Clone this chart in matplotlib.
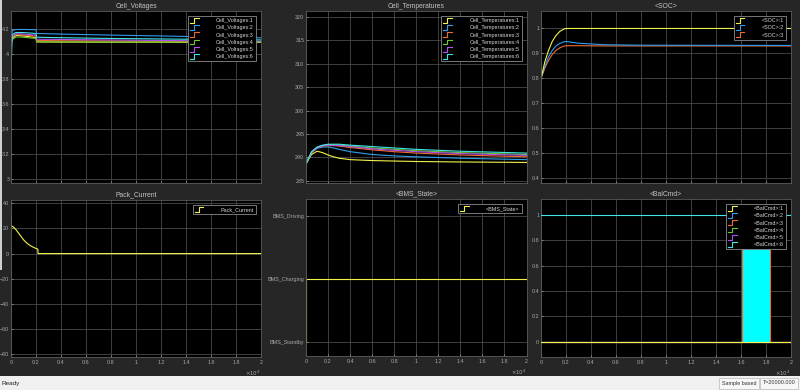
import matplotlib
matplotlib.use('Agg')
import matplotlib.pyplot as plt
from matplotlib.lines import Line2D
from matplotlib.legend_handler import HandlerBase
from matplotlib.patches import Rectangle

plt.rcParams['font.family'] = ['Liberation Sans', 'DejaVu Sans']

# ---------------- data ----------------
xticks = [0, 2000, 4000, 6000, 8000, 10000, 12000, 14000, 16000, 18000, 20000]
xtick_labels = ['0', '0.2', '0.4', '0.6', '0.8', '1', '1.2', '1.4', '1.6', '1.8', '2']

# Cell voltages
v_t = [0, 100, 400, 800, 1200, 1600, 2000, 2050, 4000, 8000, 12000, 16000, 20000]
v_1 = [4.08, 4.13, 4.152, 4.150, 4.145, 4.140, 4.136, 4.100, 4.099, 4.098, 4.098, 4.097, 4.097]
v_2 = [4.10, 4.19, 4.200, 4.200, 4.200, 4.199, 4.198, 4.168, 4.163, 4.155, 4.148, 4.140, 4.133]
v_3 = [4.09, 4.14, 4.158, 4.157, 4.154, 4.150, 4.147, 4.112, 4.110, 4.108, 4.106, 4.104, 4.102]
v_4 = [4.08, 4.12, 4.140, 4.139, 4.136, 4.132, 4.128, 4.102, 4.101, 4.100, 4.100, 4.099, 4.099]
v_5 = [4.09, 4.15, 4.166, 4.165, 4.162, 4.158, 4.155, 4.122, 4.120, 4.116, 4.112, 4.108, 4.104]
v_6 = [3.86, 4.16, 4.176, 4.176, 4.174, 4.171, 4.168, 4.138, 4.134, 4.128, 4.124, 4.120, 4.116]

# Cell temperatures
T_t = [0, 500, 1000, 1500, 2000, 2500, 3000, 4000, 6000, 8000, 10000, 14000, 20000]
T_1 = [288.6, 290.6, 291.3, 291.0, 290.5, 290.1, 289.8, 289.5, 289.3, 289.2, 289.1, 289.0, 288.9]
T_2 = [288.6, 291.0, 291.9, 292.2, 292.2, 292.0, 291.7, 291.2, 290.6, 290.3, 290.1, 289.8, 289.5]
T_3 = [288.6, 291.0, 292.0, 292.4, 292.5, 292.5, 292.4, 292.1, 291.6, 291.2, 290.9, 290.5, 290.1]
T_4 = [288.6, 291.1, 292.1, 292.5, 292.7, 292.7, 292.6, 292.4, 292.0, 291.7, 291.4, 291.0, 290.6]
T_5 = [288.6, 291.1, 292.0, 292.5, 292.6, 292.6, 292.5, 292.3, 291.8, 291.5, 291.2, 290.8, 290.4]
T_6 = [288.6, 291.2, 292.2, 292.6, 292.8, 292.8, 292.8, 292.6, 292.3, 292.0, 291.7, 291.3, 290.9]

# SOC
s_t = [0, 300, 600, 900, 1200, 1500, 1800, 2000, 3000, 5000, 8000, 20000]
soc_1 = [0.80, 0.865, 0.912, 0.948, 0.972, 0.988, 0.997, 1.000, 1.000, 1.000, 1.000, 1.000]
soc_2 = [0.80, 0.848, 0.886, 0.912, 0.930, 0.940, 0.946, 0.948, 0.941, 0.935, 0.933, 0.932]
soc_3 = [0.80, 0.840, 0.872, 0.896, 0.912, 0.922, 0.929, 0.931, 0.931, 0.930, 0.930, 0.930]

# Pack current
i_t = [0, 20, 150, 400, 700, 1000, 1300, 1600, 1900, 2150, 2160, 20000]
i_v = [30, 22, 21.5, 19, 15, 11, 8, 6, 4.5, 3.5, 0, 0]

# BMS state (0=Standby, 1=Charging, 2=Driving)
state_labels = ['BMS_Standby', 'BMS_Charging', 'BMS_Driving']
st_t = [0, 0, 20000]
st_v = [0, 1, 1]

# Balancing commands
b_t = [0, 20000]
bal_low = [0, 0]
bal_high = [1, 1]
bal_win_t = [16050, 18300]
bal3_t = [0, 16050, 16050, 18300, 18300, 20000]
bal3_v = [0, 0, 1, 1, 0, 0]

C = ['#f2f24a', '#2f9cf0', '#f06a34', '#6ac830', '#b050f0', '#40e6e6']

BG = '#262626'
GRID = '#4a4a4a'
TXT = '#c4c4c4'
TICK = '#a8a8a8'
W, H = 800, 390

fig = plt.figure(figsize=(8, 3.9), dpi=100, facecolor=BG)


def axpos(x0, y0, x1, y1):
    return [x0 / W, 1 - y1 / H, (x1 - x0) / W, (y1 - y0) / H]


class StairHandler(HandlerBase):
    def create_artists(self, legend, orig_handle, xdescent, ydescent,
                       width, height, fontsize, trans):
        x0, y0 = -xdescent, -ydescent
        xs = [x0, x0 + width * 0.45, x0 + width * 0.45, x0 + width]
        ys = [y0, y0, y0 + height, y0 + height]
        ln = Line2D(xs, ys, color=orig_handle.get_color(), lw=0.8, transform=trans)
        return [ln]


def style(ax, title, ylim, yticks, show_x):
    ax.set_facecolor('black')
    ax.set_xlim(0, 20000)
    ax.set_ylim(*ylim)
    ax.set_xticks(xticks)
    if show_x:
        ax.set_xticklabels(xtick_labels)
        ax.text(1.0, -0.075, r'$\times 10^4$', transform=ax.transAxes, ha='right',
                va='top', fontsize=3.9, color=TICK)
    else:
        ax.set_xticklabels([])
    ax.set_yticks(yticks)
    ax.grid(True, color=GRID, lw=0.6)
    ax.tick_params(colors=TICK, labelsize=3.9, length=1.5, width=0.5, pad=1.2,
                   direction='in')
    ax.tick_params(axis='x', pad=2.5)
    for s in ax.spines.values():
        s.set_color('#5a5a5a')
        s.set_linewidth(0.6)
    ax.set_title(title, color=TXT, fontsize=4.9, pad=2.5)


def legend(ax, lines):
    lg = ax.legend(handles=lines, loc='upper right', fontsize=3.9,
                   facecolor='black', edgecolor='#8a8a8a', framealpha=1,
                   fancybox=False, labelcolor='#d8d8d8', handlelength=1.6,
                   handleheight=1.0, handletextpad=3.2, labelspacing=0.35,
                   borderpad=0.4, borderaxespad=0.9,
                   handler_map={Line2D: StairHandler()})
    lg.get_frame().set_linewidth(0.6)
    lg.set_zorder(10)
    return lg


# Cell_Voltages
ax = fig.add_axes(axpos(11, 11, 261, 183))
vs = [v_1, v_2, v_3, v_4, v_5, v_6]
order = [0, 2, 4, 3, 5, 1]
lines = [None] * 6
for k in order:
    lines[k], = ax.plot(v_t, vs[k], color=C[k], lw=0.8, label='Cell_Voltages:%d' % (k + 1))
style(ax, 'Cell_Voltages', (2.97, 4.348), [3, 3.2, 3.4, 3.6, 3.8, 4, 4.2], False)
ax.set_yticklabels(['3', '3.2', '3.4', '3.6', '3.8', '4', '4.2'])
legend(ax, lines)

# Cell_Temperatures
ax = fig.add_axes(axpos(306, 11, 526.5, 183))
Ts = [T_1, T_2, T_3, T_4, T_5, T_6]
lines = []
for k in range(6):
    l, = ax.plot(T_t, Ts[k], color=C[k], lw=0.8, label='Cell_Temperatures:%d' % (k + 1))
    lines.append(l)
style(ax, 'Cell_Temperatures', (284.5, 321.3), [285, 290, 295, 300, 305, 310, 315, 320], False)
legend(ax, lines)

# SOC
ax = fig.add_axes(axpos(541, 11, 791, 183))
socs = [soc_1, soc_2, soc_3]
lines = [None] * 3
for k in [2, 1, 0]:
    lines[k], = ax.plot(s_t, socs[k], color=C[k], lw=0.8, label='<SOC>:%d' % (k + 1))
style(ax, '<SOC>', (0.381, 1.07), [0.4, 0.5, 0.6, 0.7, 0.8, 0.9, 1.0], False)
ax.set_yticklabels(['0.4', '0.5', '0.6', '0.7', '0.8', '0.9', '1'])
legend(ax, lines)

# Pack_Current
ax = fig.add_axes(axpos(11, 200, 261, 356.7))
l, = ax.plot(i_t, i_v, color=C[0], lw=0.8, label='Pack_Current')
style(ax, 'Pack_Current', (-82, 42.6), [-80, -60, -40, -20, 0, 20, 40], True)
legend(ax, [l])

# BMS_State
ax = fig.add_axes(axpos(306, 199, 526.5, 355.5))
l, = ax.plot(st_t, st_v, color=C[0], lw=0.8, label='<BMS_State>')
style(ax, '<BMS_State>', (-0.21, 2.265), [0, 1, 2], True)
ax.set_yticklabels(state_labels)
legend(ax, [l])

# BalCmd
ax = fig.add_axes(axpos(541, 199, 791, 356.7))
ax.fill_between(bal_win_t, 0, 1, color='#00ffff', lw=0, zorder=2)
zs = [2.6, 1.5, 2.4, 1.5, 1.5, 2.8]
lines = []
for k in range(6):
    if k == 5:
        xs, ys = b_t, bal_high
    elif k == 2:
        xs, ys = bal3_t, bal3_v
    else:
        xs, ys = b_t, bal_low
    l, = ax.plot(xs, ys, color=C[k], lw=0.8, zorder=zs[k], label='<BalCmd>:%d' % (k + 1))
    lines.append(l)
style(ax, '<BalCmd>', (-0.118, 1.126), [0, 0.2, 0.4, 0.6, 0.8, 1.0], True)
ax.set_yticklabels(['0', '0.2', '0.4', '0.6', '0.8', '1'])
legend(ax, lines)

# left light border strip
fig.patches.append(Rectangle((0, 1 - 270 / H), 1.5 / W, 270 / H, transform=fig.transFigure,
                             facecolor='#cfcfcf', edgecolor='none'))

# status bar
fig.patches.append(Rectangle((0, 0), 1, 14 / H, transform=fig.transFigure,
                             facecolor='#f0f0f0', edgecolor='none'))
fig.text(2 / W, 7 / H, 'Ready', fontsize=4.6, color='#202020', va='center', ha='left')
for x0, x1, txt in [(719, 759, 'Sample based'), (760, 798, 'T=20000.000')]:
    fig.patches.append(Rectangle((x0 / W, 1.5 / H), (x1 - x0) / W, 11 / H,
                                 transform=fig.transFigure, facecolor='#f7f7f7',
                                 edgecolor='#b8b8b8', lw=0.5))
    fig.text((x0 + x1) / 2 / W, 7 / H, txt, fontsize=3.9, color='#303030',
             va='center', ha='center')

fig.savefig('out.png', dpi=100, facecolor=BG)
